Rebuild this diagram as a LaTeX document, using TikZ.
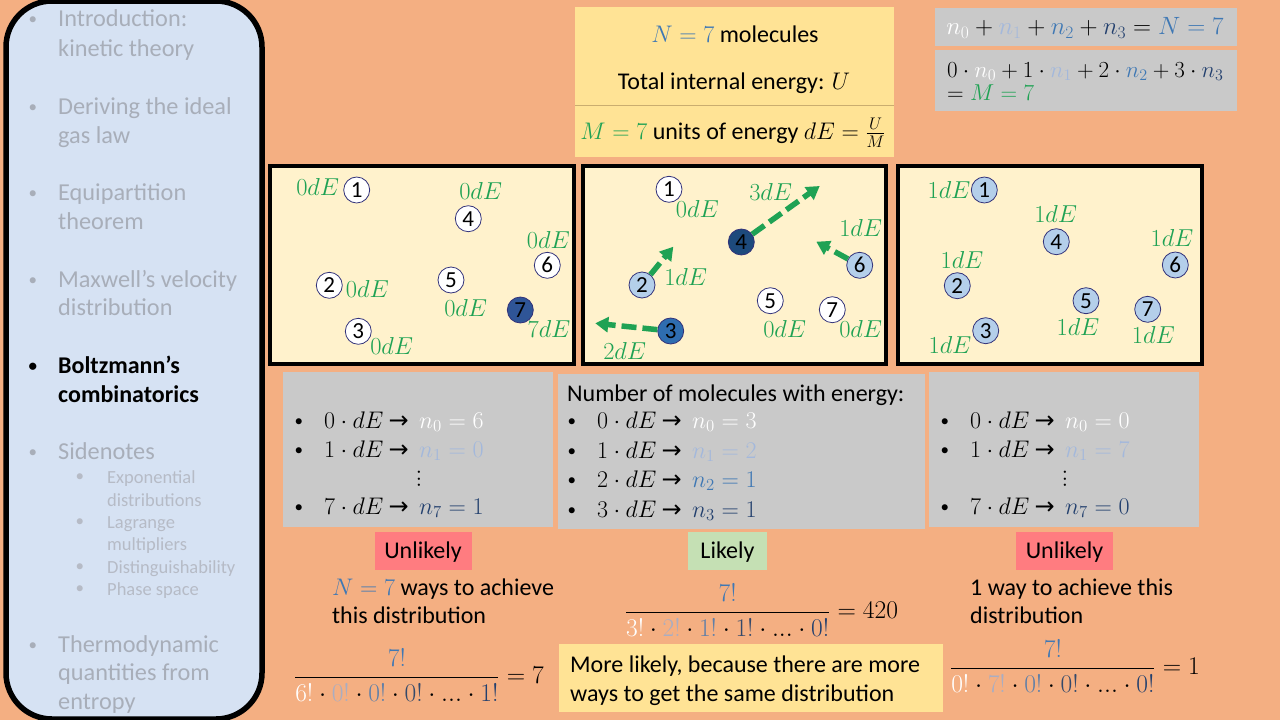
\documentclass[tikz,border=0pt]{standalone}
\usepackage{fix-cm}
\usepackage[no-math]{fontspec}
\setmainfont{Carlito}
\newfontfamily\arrowfont{DejaVu Sans}
\usetikzlibrary{arrows.meta}
\definecolor{bgorange}{HTML}{F4AF82}
\definecolor{sidefill}{HTML}{D6E2F3}
\definecolor{sidegrey}{HTML}{A8AEB9}
\definecolor{subgrey}{HTML}{B6BBC6}
\definecolor{boxyellow}{HTML}{FFF2CC}
\definecolor{noteyellow}{HTML}{FFE395}
\definecolor{notegrey}{HTML}{C9C9C9}
\definecolor{engreen}{HTML}{1FA254}
\definecolor{nzero}{HTML}{FFFFFF}
\definecolor{none}{HTML}{A3B8DC}
\definecolor{ntwo}{HTML}{3F78B4}
\definecolor{nthree}{HTML}{23406E}
\definecolor{fracone}{HTML}{A9ADC2}
\definecolor{fractwo}{HTML}{5F7FA8}
\definecolor{fracthree}{HTML}{34496A}
\definecolor{molone}{HTML}{B4CFEA}
\definecolor{moltwo}{HTML}{2E6DB0}
\definecolor{molthree}{HTML}{1D4A7C}
\definecolor{molseven}{HTML}{2F5597}
\definecolor{redtag}{HTML}{FF7C80}
\definecolor{greentag}{HTML}{C5E0B4}
\newcommand{\smallblt}{\raisebox{2pt}{\fontsize{17}{17}\selectfont\textbullet}}
\newcommand{\sideblt}{\llap{\smallblt\hspace{21pt}}}
\newcommand{\subblt}{\llap{\smallblt\hspace{23pt}}}
\newcommand{\enline}[3]{\llap{\smallblt\hspace{21pt}}\makebox[95pt][l]{$#1\cdot dE$\hspace{5pt}{\arrowfont →}}{\color{#2}$#3$}}
\newcommand{\tightdots}{{\ldotp\!\ldotp\!\ldotp}}
\tikzset{
  sidetext/.style={anchor=base west,inner sep=0pt,text=sidegrey,font=\fontsize{24.3}{29}\selectfont},
  subtext/.style={anchor=base west,inner sep=0pt,text=subgrey,font=\fontsize{18.5}{22}\selectfont},
  plaintext/.style={anchor=base west,inner sep=0pt,font=\fontsize{24}{29}\selectfont},
  midtext/.style={inner sep=0pt,font=\fontsize{24}{29}\selectfont},
  fractext/.style={inner sep=0pt,font=\fontsize{25.5}{30}\selectfont},
  enlabel/.style={inner sep=0pt,text=engreen,font=\fontsize{24.5}{29}\selectfont},
  molbase/.style={circle,draw=black!65!blue!80,line width=.8pt,minimum size=26pt,inner sep=0pt,font=\fontsize{23}{26}\selectfont},
  molzero/.style={molbase,fill=white},
  mollight/.style={molbase,fill=molone},
  molmid/.style={molbase,fill=moltwo},
  moldark/.style={molbase,fill=molthree},
  molhigh/.style={molbase,fill=molseven},
  framebox/.style={draw=black,line width=4pt,fill=boxyellow},
  enarrow/.style={-{Triangle[length=13pt,width=15pt]},draw=engreen,line width=5.5pt,dash pattern=on 15pt off 6pt},
  tagbox/.style={minimum height=38pt,inner sep=0pt,text height=20pt,text depth=5pt,font=\fontsize{24}{29}\selectfont},
  dotcol/.style={inner sep=0pt,rotate=90,font=\fontsize{24}{29}\selectfont}
}
\begin{document}
\begin{tikzpicture}[x=1pt,y=-1pt]
  \useasboundingbox (0,0) rectangle (1280,720);
  \fill[bgorange] (0,0) rectangle (1280,720);
  % sidebar
  \draw[black,line width=5.5pt,fill=sidefill,rounded corners=46pt] (6,1) rectangle (262,719);
  \node[sidetext] (s1) at (58,27) {\sideblt Introduction:};
  \node[sidetext] (s1b) at (58,56) {kinetic theory};
  \node[sidetext] (s2) at (58,114) {\sideblt Deriving the ideal};
  \node[sidetext] (s2b) at (58,143) {gas law};
  \node[sidetext] (s3) at (58,200) {\sideblt Equipartition};
  \node[sidetext] (s3b) at (58,229) {theorem};
  \node[sidetext] (s4) at (58,287) {\sideblt Maxwell’s velocity};
  \node[sidetext] (s4b) at (58,315) {distribution};
  \node[sidetext,text=black,font=\fontsize{24}{29}\selectfont\bfseries] (s5) at (58,373) {\sideblt Boltzmann’s};
  \node[sidetext,text=black,font=\fontsize{24}{29}\selectfont\bfseries] (s5b) at (58,402) {combinatorics};
  \node[sidetext] (s6) at (58,459) {\sideblt Sidenotes};
  \node[subtext] (s6a) at (107,483) {\subblt Exponential};
  \node[subtext] (s6ab) at (107,506) {distributions};
  \node[subtext] (s6c) at (107,528) {\subblt Lagrange};
  \node[subtext] (s6cb) at (107,550) {multipliers};
  \node[subtext] (s6d) at (107,573) {\subblt Distinguishability};
  \node[subtext] (s6e) at (107,595) {\subblt Phase space};
  \node[sidetext] (s7) at (58,652) {\sideblt Thermodynamic};
  \node[sidetext] (s7b) at (58,680) {quantities from};
  \node[sidetext] (s7c) at (58,709) {entropy};
  % top notes
  \fill[noteyellow] (575,7) rectangle (894,157);
  \draw[black!20!noteyellow!85!brown,line width=1pt] (575,105.5) -- (894,105.5);
  \node[midtext] (nmol) at (735,34) {{\color{ntwo}$N=7$} molecules};
  \node[midtext] (utot) at (734,83) {Total internal energy: $U$};
  \node[midtext] (unit) at (733,133) {{\color{engreen}$M=7$} units of energy $dE=\frac{U}{M}$};
  \fill[notegrey] (935,8) rectangle (1237,46);
  \fill[notegrey] (935,50) rectangle (1237,111);
  \node[midtext,font=\fontsize{25}{29}\selectfont] (sumn) at (1085,28) {$\color{nzero}n_0\color{black}+\color{none}n_1\color{black}+\color{ntwo}n_2\color{black}+\color{nthree}n_3\color{black}=\color{ntwo}N=7$};
  \node[plaintext,font=\fontsize{23}{26}\selectfont] (summ) at (947,77) {$0\cdot\color{nzero}n_0\color{black}+1\cdot\color{none}n_1\color{black}+2\cdot\color{ntwo}n_2\color{black}+3\cdot\color{nthree}n_3$};
  \node[plaintext,font=\fontsize{23}{26}\selectfont] (summb) at (947,100) {$=\color{engreen}M=7$};
  % first box
  \draw[framebox] (270,165.5) rectangle (574,364);
  \node[molzero] (a1) at (356.7,190) {1};
  \node[molzero] (a2) at (329.3,285.3) {2};
  \node[molzero] (a3) at (358.3,331.3) {3};
  \node[molzero] (a4) at (468.3,218.7) {4};
  \node[molzero] (a5) at (451,280) {5};
  \node[molzero] (a6) at (547.3,265.3) {6};
  \node[molhigh] (a7) at (520.3,310) {7};
  \node[enlabel] (la1) at (317.7,187.3) {$0dE$};
  \node[enlabel] (la2) at (367.3,289) {$0dE$};
  \node[enlabel] (la3) at (391.7,346) {$0dE$};
  \node[enlabel] (la4) at (480.7,191) {$0dE$};
  \node[enlabel] (la5) at (465.7,308) {$0dE$};
  \node[enlabel] (la6) at (548.3,240.3) {$0dE$};
  \node[enlabel] (la7) at (549,329.3) {$7dE$};
  % second box
  \draw[framebox] (583,165.5) rectangle (886,364);
  \coordinate (tip2) at (673.3,246.7);
  \coordinate (tip3) at (595.3,323.3);
  \coordinate (tip4) at (819.7,186);
  \coordinate (tip6) at (816.3,241.7);
  \node[molzero] (b1) at (669,189.3) {1};
  \node[mollight] (b2) at (642,285) {2};
  \node[molmid] (b3) at (670.7,331) {3};
  \node[moldark] (b4) at (741.3,242) {4};
  \node[molzero] (b5) at (770.3,300.7) {5};
  \node[mollight] (b6) at (859.7,265.3) {6};
  \node[molzero] (b7) at (832.3,309.7) {7};
  \draw[enarrow] (b2) -- (tip2);
  \draw[enarrow] (b3) -- (tip3);
  \draw[enarrow] (b4) -- (tip4);
  \draw[enarrow] (b6) -- (tip6);
  \node[enlabel] (lb1) at (697.3,209.3) {$0dE$};
  \node[enlabel] (lb2) at (685.7,277.3) {$1dE$};
  \node[enlabel] (lb3) at (624.7,350.7) {$2dE$};
  \node[enlabel] (lb4) at (770.7,192) {$3dE$};
  \node[enlabel] (lb5) at (784.7,329.3) {$0dE$};
  \node[enlabel] (lb6) at (860.7,227.7) {$1dE$};
  \node[enlabel] (lb7) at (860.7,329.3) {$0dE$};
  % third box
  \draw[framebox] (898,165.5) rectangle (1202,364);
  \node[mollight] (c1) at (984.3,190) {1};
  \node[mollight] (c2) at (957.3,285.7) {2};
  \node[mollight] (c3) at (985.7,330.7) {3};
  \node[mollight] (c4) at (1056.3,241.7) {4};
  \node[mollight] (c5) at (1086,300.7) {5};
  \node[mollight] (c6) at (1175.3,265) {6};
  \node[mollight] (c7) at (1147.7,309.3) {7};
  \node[enlabel] (lc1) at (949,190) {$1dE$};
  \node[enlabel] (lc2) at (962,260) {$1dE$};
  \node[enlabel] (lc3) at (950,345) {$1dE$};
  \node[enlabel] (lc4) at (1055.7,214) {$1dE$};
  \node[enlabel] (lc5) at (1078,327.3) {$1dE$};
  \node[enlabel] (lc6) at (1172,238.3) {$1dE$};
  \node[enlabel] (lc7) at (1153.3,335) {$1dE$};
  % grey lists
  \fill[notegrey] (283,372) rectangle (553,527);
  \fill[notegrey] (558,374) rectangle (925,529);
  \fill[notegrey] (929,372) rectangle (1199,527);
  \node[plaintext] (da) at (324,428) {\enline{0}{nzero}{n_0=6}};
  \node[plaintext] (db) at (324,457) {\enline{1}{none}{n_1=0}};
  \node[dotcol] (dc) at (419,479) {$...$};
  \node[plaintext] (dd) at (324,514) {\enline{7}{nthree}{n_7=1}};
  \node[plaintext] (ehead) at (567,401) {Number of molecules with energy:};
  \node[plaintext] (ea) at (597,428) {\enline{0}{nzero}{n_0=3}};
  \node[plaintext] (eb) at (597,458) {\enline{1}{none}{n_1=2}};
  \node[plaintext] (ec) at (597,487) {\enline{2}{ntwo}{n_2=1}};
  \node[plaintext] (ed) at (597,517) {\enline{3}{nthree}{n_3=1}};
  \node[plaintext] (fa) at (970,428) {\enline{0}{nzero}{n_0=0}};
  \node[plaintext] (fb) at (970,457) {\enline{1}{none}{n_1=7}};
  \node[dotcol] (fc) at (1065,479) {$...$};
  \node[plaintext] (fd) at (970,514) {\enline{7}{nthree}{n_7=0}};
  % verdicts
  \node[tagbox,fill=redtag,minimum width=97pt] (ulo) at (423,551) {Unlikely};
  \node[tagbox,fill=greentag,minimum width=79pt] (lik) at (727.5,551) {Likely};
  \node[tagbox,fill=redtag,minimum width=97pt] (uhi) at (1064.5,551) {Unlikely};
  \node[plaintext] (wa) at (332,595) {{\color{ntwo}$N=7$} ways to achieve};
  \node[plaintext] (wb) at (332,623) {this distribution};
  \node[plaintext] (wc) at (970,595) {1 way to achieve this};
  \node[plaintext] (wd) at (970,623) {distribution};
  % counts
  \node[fractext] (ga) at (419,675) {$\displaystyle\frac{\color{ntwo}7!}{{\color{nzero}6!}\cdot{\color{fracone}0!}\cdot{\color{fractwo}0!}\cdot{\color{fracthree}0!}\cdot\tightdots\cdot{\color{nthree}1!}}=7$};
  \node[fractext] (gb) at (761.5,610) {$\displaystyle\frac{\color{ntwo}7!}{{\color{nzero}3!}\cdot{\color{fracone}2!}\cdot{\color{fractwo}1!}\cdot{\color{fracthree}1!}\cdot\tightdots\cdot{\color{nthree}0!}}=420$};
  \node[fractext] (gc) at (1075,666) {$\displaystyle\frac{\color{ntwo}7!}{{\color{nzero}0!}\cdot{\color{fracone}7!}\cdot{\color{fractwo}0!}\cdot{\color{fracthree}0!}\cdot\tightdots\cdot{\color{nthree}0!}}=1$};
  \fill[noteyellow] (559,644) rectangle (943,712);
  \node[plaintext] (ma) at (570,672) {More likely, because there are more};
  \node[plaintext] (mb) at (570,701) {ways to get the same distribution};
\end{tikzpicture}
\end{document}
